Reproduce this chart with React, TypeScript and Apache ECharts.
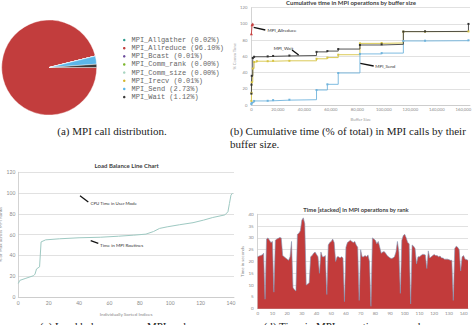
import React, { useEffect, useRef } from "react";
import * as echarts from "echarts";

// (a) MPI call distribution
const pieNames = ["MPI_Allgather", "MPI_Allreduce", "MPI_Bcast", "MPI_Comm_rank", "MPI_Comm_size", "MPI_Irecv", "MPI_Send", "MPI_Wait"];
const pieValues = [0.02, 96.1, 0.01, 0.0, 0.0, 0.01, 2.73, 1.12];
const pieColors = ["#2f9c8e", "#c23d3d", "#6b4b9b", "#7db72f", "#a9d5c1", "#d4b52c", "#5cb6e8", "#3a3a3a"];

// (b) cumulative time (% of total) by buffer size  [buffer size, %]
const cumAllreduce = [[0, 88], [512, 99], [1024, 100]];
const cumIrecv = [[0, 5], [64, 15], [256, 28], [1024, 45], [2048, 53], [4096, 54], [12288, 54], [16384, 54.5], [28672, 54.5], [49152, 57], [57344, 58.5], [65536, 62], [81920, 76], [98304, 76.5], [114688, 90.5], [131072, 90.5], [163840, 90.8]];
const cumSend = [[0, 1], [64, 2], [512, 3], [2048, 5], [12288, 5.2], [16384, 6], [28672, 6.5], [49152, 18.5], [57344, 25.5], [65536, 39.5], [81920, 63], [98304, 64], [114688, 79], [131072, 79.3], [163840, 79.8]];
const cumWait = [[0, 14], [64, 25], [256, 36], [1024, 58], [2048, 59.5], [12288, 60], [16384, 60.5], [28672, 61], [49152, 65.5], [57344, 66.5], [65536, 69], [81920, 74], [98304, 74.8], [114688, 90.5], [131072, 90.8], [163840, 100]];

// (c) load balance  [sorted index, % of max]
const cpuUserMode = [[0, 100], [141, 100]];
const mpiRoutines = [[0, 13], [1, 16], [5, 18], [10, 20.5], [11, 22], [12, 27], [14, 29], [15, 53], [18, 55], [27, 56], [40, 57], [54, 57.5], [66, 58.5], [76, 59.5], [84, 60.5], [89, 63], [93, 66], [98, 67.5], [106, 69.5], [115, 71.5], [122, 74], [128, 76.5], [136, 79], [138, 82], [139, 90], [140, 98], [141, 100]];

// (d) time (stacked) in MPI operations by rank, seconds, ranks 0..143
const rankTimes = [
  22, 22.3, 22.5, 22.8, 23.5, 4, 29.5, 30, 29, 28,
  28.5, 7, 29, 29.5, 29.8, 30.2, 30, 22.5, 22, 21.5,
  21, 20.5, 22, 28.5, 9, 8, 7.5, 31.5, 32, 33,
  37.5, 38.5, 36, 10, 10.5, 11, 22, 22.5, 23.5, 24,
  23, 22, 15, 24, 22, 22, 22.5, 6, 27, 28,
  28.5, 29.5, 28, 20, 22, 22, 21.5, 22, 21.5, 3,
  26, 28, 28.5, 29, 28.5, 28, 28.5, 27, 26, 3.5,
  25, 22, 22, 22.5, 22, 22.8, 20, 1, 30, 29.5,
  29, 27.5, 28.5, 26, 23.5, 24, 24.2, 23.5, 22.5, 22,
  21.5, 21.3, 21.5, 22, 24, 28.5, 24, 6.5, 29, 31,
  31.5, 30, 28, 27.5, 2, 27, 26.5, 25.5, 19, 22,
  22, 22.5, 23, 23, 22.8, 17, 24.5, 21.5, 22, 22.5,
  23, 22.5, 22.5, 22, 22.3, 21.5, 21.5, 21, 21, 21,
  20.8, 20.5, 20.5, 3.5, 25.5, 26.5, 26, 25, 16, 22,
  22.5, 21, 20.8, 20.5,
];

const SANS = "Lato, 'Open Sans', sans-serif";
const SERIF = "'Liberation Serif', 'DejaVu Serif', serif";

function App() {
  const ref = useRef<HTMLDivElement>(null);
  useEffect(() => {
    document.body.style.margin = "0";
    const chart = echarts.init(ref.current!, null, { renderer: "svg" });
    const axisLineGray = { show: true, lineStyle: { color: "#c8c8c8", width: 0.8 } };
    const splitGray = { show: true, lineStyle: { color: "#d9d9d9", width: 0.8 } };
    const tick = (fs: number, margin: number) => ({ fontSize: fs, color: "#8a8a8a", fontFamily: SANS, margin });
    const text = (x: number, y: number, t: string, fs: number, extra: any = {}) => ({
      type: "text", x, y, z: 100,
      style: { text: t, fontSize: fs, fontFamily: SANS, fill: "#333", align: "left", verticalAlign: "middle", ...extra },
    });
    const lead = (x1: number, y1: number, x2: number, y2: number) => ({
      type: "line", z: 100, shape: { x1, y1, x2, y2 }, style: { stroke: "#111", lineWidth: 1.3 },
    });
    const comma = (v: number) => v.toLocaleString("en-US");

    const option: any = {
      animation: false,
      backgroundColor: "#ffffff",
      grid: [
        { left: 251.4, top: 7.7, width: 218.6, height: 97.3, outerBoundsMode: "none" },
        { left: 18.3, top: 172.3, width: 215.7, height: 124.7, outerBoundsMode: "none" },
        { left: 257.7, top: 214.3, width: 210.3, height: 94.4, outerBoundsMode: "none" },
      ],
      xAxis: [
        {
          gridIndex: 0, type: "value", min: 0, max: 165000, interval: 20000,
          axisLine: axisLineGray, axisTick: { show: false }, splitLine: { show: false },
          axisLabel: { ...tick(4.2, 2.5), showMaxLabel: false, formatter: comma },
          name: "Buffer Size", nameLocation: "middle", nameGap: 12,
          nameTextStyle: { fontSize: 4.3, color: "#999", fontFamily: SANS },
        },
        {
          gridIndex: 1, type: "value", min: 0, max: 142, interval: 20,
          axisLine: axisLineGray, axisTick: { show: false }, splitLine: { show: false },
          axisLabel: { ...tick(5, 3), showMaxLabel: false },
          name: "Individually Sorted Indices", nameLocation: "middle", nameGap: 14.5,
          nameTextStyle: { fontSize: 4.6, color: "#888", fontFamily: SANS },
        },
        {
          gridIndex: 2, type: "value", min: 0, max: 143, interval: 10,
          axisLine: axisLineGray, axisTick: { show: false }, splitLine: { show: false },
          axisLabel: { ...tick(4.5, 2.5), showMaxLabel: false },
        },
      ],
      yAxis: [
        {
          gridIndex: 0, type: "value", min: 0, max: 120, interval: 20,
          axisLine: axisLineGray, axisTick: { show: false }, splitLine: splitGray,
          axisLabel: tick(4.2, 4),
          name: "% Comm Time", nameLocation: "middle", nameGap: 10.5, nameRotate: 90,
          nameTextStyle: { fontSize: 4.2, color: "#aaa", fontFamily: SANS },
        },
        {
          gridIndex: 1, type: "value", min: 0, max: 120, interval: 20,
          axisLine: axisLineGray, axisTick: { show: false }, splitLine: splitGray,
          axisLabel: tick(5, 3),
          name: "% of Max across MPI Ranks", nameLocation: "middle", nameGap: 12, nameRotate: 90,
          nameTextStyle: { fontSize: 4.6, color: "#888", fontFamily: SANS },
        },
        {
          gridIndex: 2, type: "value", min: 0, max: 40, interval: 5,
          axisLine: axisLineGray, axisTick: { show: false }, splitLine: splitGray,
          axisLabel: tick(4.5, 4),
          name: "Time in seconds", nameLocation: "middle", nameGap: 11, nameRotate: 90,
          nameTextStyle: { fontSize: 4.4, color: "#888", fontFamily: SANS },
        },
      ],
      legend: {
        data: pieNames,
        orient: "vertical",
        left: 121,
        top: 36,
        padding: 0,
        itemWidth: 4.5,
        itemHeight: 4.5,
        itemGap: 0.15,
        icon: "circle",
        selectedMode: false,
        formatter: (name: string) => {
          const i = pieNames.indexOf(name);
          return `${name} (${pieValues[i].toFixed(2)}%)`;
        },
        textStyle: { fontFamily: "'Liberation Mono', 'DejaVu Sans Mono', monospace", fontSize: 7, color: "#666", lineHeight: 8 },
      },
      series: [
        {
          type: "pie",
          name: "calls",
          center: [49.2, 67.5],
          radius: 47.5,
          startAngle: 0,
          clockwise: true,
          label: { show: false },
          labelLine: { show: false },
          itemStyle: { borderColor: "#ffffff", borderWidth: 0.4 },
          data: pieNames.map((n, i) => ({ name: n, value: pieValues[i], itemStyle: { color: pieColors[i] } })),
        },
        {
          type: "line", name: "cumSend", xAxisIndex: 0, yAxisIndex: 0, step: "end", data: cumSend,
          symbol: "rect", symbolSize: 2, itemStyle: { color: "#6fb3dc" }, lineStyle: { color: "#6fb3dc", width: 0.9 },
        },
        {
          type: "line", name: "cumIrecv", xAxisIndex: 0, yAxisIndex: 0, step: "end", data: cumIrecv,
          symbol: "rect", symbolSize: 2, itemStyle: { color: "#d6c445" }, lineStyle: { color: "#d6c445", width: 0.9 },
        },
        {
          type: "line", name: "cumAllreduce", xAxisIndex: 0, yAxisIndex: 0, step: "end", data: cumAllreduce,
          symbol: "triangle", symbolSize: 3, itemStyle: { color: "#c84040" }, lineStyle: { color: "#c84040", width: 0.9 },
        },
        {
          type: "line", name: "cumWait", xAxisIndex: 0, yAxisIndex: 0, step: "end", data: cumWait,
          symbol: "rect", symbolSize: 2, itemStyle: { color: "#333333" }, lineStyle: { color: "#404040", width: 0.9 },
        },
        {
          type: "line", name: "CPU Time in User Mode", xAxisIndex: 1, yAxisIndex: 1, data: cpuUserMode,
          symbol: "none",
          lineStyle: {
            width: 1.6,
            color: new echarts.graphic.LinearGradient(0, 0, 1, 0, [
              { offset: 0, color: "#b39a6c" },
              { offset: 0.28, color: "#b39a6c" },
              { offset: 0.29, color: "#ead27a" },
              { offset: 1, color: "#ead27a" },
            ]),
          },
        },
        {
          type: "line", name: "Time in MPI Routines", xAxisIndex: 1, yAxisIndex: 1, data: mpiRoutines,
          symbol: "none", lineStyle: { color: "#9ec9c2", width: 1 },
        },
        {
          type: "line", name: "Time stacked", xAxisIndex: 2, yAxisIndex: 2, stack: "total",
          data: rankTimes.map((v, i) => [i, v]),
          symbol: "none",
          lineStyle: { color: "#8196b6", width: 0.6 },
          areaStyle: { color: "#c23b3b", opacity: 1 },
        },
      ],
      graphic: [
        // captions
        text(112, 131, "(a) MPI call distribution.", 11, { fontFamily: SERIF, fill: "#222", align: "center" }),
        text(230, 131, "(b) Cumulative time (% of total) in MPI calls by their", 11, { fontFamily: SERIF, fill: "#222" }),
        text(230, 143.5, "buffer size.", 11, { fontFamily: SERIF, fill: "#222" }),
        text(40, 325.5, "(c) Load balance across MPI ranks.", 11, { fontFamily: SERIF, fill: "#222" }),
        text(263.7, 325.5, "(d) Time in MPI operations per rank.", 11, { fontFamily: SERIF, fill: "#222" }),
        // chart titles
        text(351, 2.5, "Cumulative time in MPI operations by buffer size", 6, { align: "center", fontWeight: "bold", fill: "#404040" }),
        text(126.7, 165, "Load Balance Line Chart", 6, { align: "center", fontWeight: "bold", fill: "#404040" }),
        text(356, 209.3, "Time [stacked] in MPI operations by rank", 5.8, { align: "center", fontWeight: "bold", fill: "#404040" }),
        // (b) annotations
        lead(253.7, 27.3, 265.3, 30),
        text(267.5, 30, "MPI_Allreduce", 4.5),
        lead(292, 50, 298.7, 55),
        text(273.7, 48.3, "MPI_Wait", 4.5),
        lead(360.3, 63.3, 373.7, 66),
        text(375.3, 66.7, "MPI_Send", 4.5),
        // (c) annotations
        lead(80, 195.7, 88.3, 202),
        text(90.5, 203.3, "CPU Time in User Mode", 4.4),
        lead(90.7, 240.7, 98.3, 243.3),
        text(100, 245, "Time in MPI Routines", 4.6),
      ],
    };
    chart.setOption(option);
    return () => chart.dispose();
  }, []);
  return <div ref={ref} style={{ position: "fixed", left: 0, top: 0, width: 474, height: 325 }} />;
}

export default App;
